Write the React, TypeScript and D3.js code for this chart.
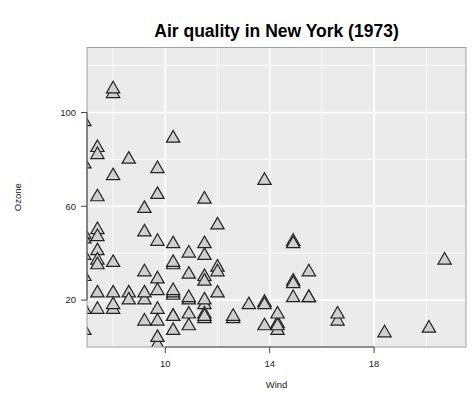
import React from "react";
import * as d3 from "d3";

// airquality (1973): Ozone (null = NA) and Wind, rows 1..153
const ozone: (number | null)[] = [
  41, 36, 12, 18, null, 28, 23, 19, 8, null, 7, 16, 11, 14, 18, 14, 34, 6, 30, 11, 1, 11, 4, 32, null, null, null, 23, 45, 115, 37,
  null, null, null, null, null, null, 29, null, 71, 39, null, null, 23, null, null, 21, 37, 20, 12, 13, null, null, null, null, null, null, null, null, null, null,
  135, 49, 32, null, 64, 40, 77, 97, 97, 85, null, 10, 27, null, 7, 48, 35, 61, 79, 63, 16, null, null, 80, 108, 20, 52, 82, 50, 64, 59,
  39, 9, 16, 78, 35, 66, 122, 89, 110, null, null, 44, 28, 65, null, 22, 59, 23, 31, 44, 21, 9, null, 45, 168, 73, null, 76, 118, 84, 85,
  96, 78, 73, 91, 47, 32, 20, 23, 21, 24, 44, 21, 28, 9, 13, 46, 18, 13, 24, 16, 13, 23, 36, 7, 14, 30, null, 14, 18, 20,
];
const wind: number[] = [
  7.4, 8.0, 12.6, 11.5, 14.3, 14.9, 8.6, 13.8, 20.1, 8.6, 6.9, 9.7, 9.2, 10.9, 13.2, 11.5, 12.0, 18.4, 11.5, 9.7, 9.7, 16.6, 9.7, 12.0, 16.6, 14.9, 8.0, 12.0, 14.9, 5.7, 7.4,
  8.6, 9.7, 16.1, 9.2, 8.6, 14.3, 9.7, 6.9, 13.8, 11.5, 10.9, 9.2, 8.0, 13.8, 11.5, 14.9, 20.7, 9.2, 11.5, 10.3, 6.3, 1.7, 4.6, 6.3, 8.0, 8.0, 10.3, 11.5, 14.9, 8.0,
  4.1, 9.2, 9.2, 10.9, 4.6, 10.9, 5.1, 6.3, 5.7, 7.4, 8.6, 14.3, 14.9, 14.9, 14.3, 6.9, 10.3, 6.3, 5.1, 11.5, 6.9, 9.7, 11.5, 8.6, 8.0, 8.6, 12.0, 7.4, 7.4, 7.4, 9.2,
  6.9, 13.8, 7.4, 6.9, 7.4, 4.6, 4.0, 10.3, 8.0, 8.6, 11.5, 11.5, 11.5, 9.7, 11.5, 10.3, 6.3, 7.4, 10.9, 10.3, 15.5, 14.3, 12.6, 9.7, 3.4, 8.0, 5.7, 9.7, 2.3, 6.3, 6.3,
  6.9, 5.1, 2.8, 4.6, 7.4, 15.5, 10.9, 10.3, 10.9, 9.7, 14.9, 15.5, 6.3, 10.9, 11.5, 6.9, 13.8, 10.3, 10.3, 8.0, 12.6, 9.2, 10.3, 10.3, 16.6, 6.9, 13.2, 14.3, 8.0, 11.5,
];

const xTicks = [10, 14, 18];
const xMinor = [8, 12, 16, 20];
const yTicks = [20, 60, 100];
const yMinor = [40, 80, 120];

const title = "Air quality in New York (1973)";
const xLabel = "Wind";
const yLabel = "Ozone";

export default function App() {
  const W = 474, H = 395;
  const left = 87, right = 466, top = 47.5, bottom = 347;
  const x = d3.scaleLinear().domain([7.0, 21.52]).range([left, right]);
  const y = d3.scaleLinear().domain([0, 127.7]).range([bottom, top]);

  const pts = wind
    .map((w, i) => ({ w, o: ozone[i] }))
    .filter((d) => d.o !== null) as { w: number; o: number }[];

  const r = 7.7;
  const xc = (r * Math.sqrt(3)) / 2;
  const tri = (cx: number, cy: number) =>
    `M${cx},${cy - r}L${cx + xc},${cy + r / 2}L${cx - xc},${cy + r / 2}Z`;

  const font = "'Liberation Sans', Arial, Helvetica, sans-serif";

  return (
    <svg width={W} height={H} style={{ position: "absolute", left: 0, top: 0, background: "#fff" }} fontFamily={font}>
      <defs>
        <clipPath id="panel">
          <rect x={left} y={top} width={right - left} height={bottom - top} />
        </clipPath>
      </defs>
      <text x={(left + right) / 2} y={37} textAnchor="middle" fontSize={17.5} fontWeight="bold" fill="#000">
        {title}
      </text>
      <rect x={left} y={top} width={right - left} height={bottom - top} fill="#ebebeb" />
      {xMinor.map((t) => (
        <line key={"xm" + t} x1={x(t)} x2={x(t)} y1={top} y2={bottom} stroke="#fff" strokeWidth={0.8} />
      ))}
      {yMinor.map((t) => (
        <line key={"ym" + t} x1={left} x2={right} y1={y(t)} y2={y(t)} stroke="#fff" strokeWidth={0.8} />
      ))}
      {xTicks.map((t) => (
        <line key={"xg" + t} x1={x(t)} x2={x(t)} y1={top} y2={bottom} stroke="#fff" strokeWidth={1.6} />
      ))}
      {yTicks.map((t) => (
        <line key={"yg" + t} x1={left} x2={right} y1={y(t)} y2={y(t)} stroke="#fff" strokeWidth={1.6} />
      ))}
      <g clipPath="url(#panel)">
        {pts.map((d, i) => (
          <path key={i} d={tri(x(d.w), y(d.o))} fill="#cfcfcf" stroke="#222" strokeWidth={1.2} />
        ))}
      </g>
      <rect x={left} y={top} width={right - left} height={bottom - top} fill="none" stroke="#a0a0a0" strokeWidth={1} />
      {/* y axis */}
      <line x1={left} x2={left} y1={y(yTicks[yTicks.length - 1])} y2={y(yTicks[0])} stroke="#555" strokeWidth={1.2} />
      {yTicks.map((t) => (
        <g key={"yt" + t}>
          <line x1={left - 6} x2={left} y1={y(t)} y2={y(t)} stroke="#444" strokeWidth={1} />
          <text x={left - 11} y={y(t)} dy="0.35em" textAnchor="end" fontSize={9.5} fill="#222">
            {t}
          </text>
        </g>
      ))}
      {/* x axis */}
      <line x1={x(xTicks[0])} x2={x(xTicks[xTicks.length - 1])} y1={bottom} y2={bottom} stroke="#555" strokeWidth={1.2} />
      {xTicks.map((t) => (
        <g key={"xt" + t}>
          <line x1={x(t)} x2={x(t)} y1={bottom} y2={bottom + 6} stroke="#444" strokeWidth={1} />
          <text x={x(t)} y={bottom + 20} textAnchor="middle" fontSize={9.5} fill="#222">
            {t}
          </text>
        </g>
      ))}
      <text x={(left + right) / 2} y={388} textAnchor="middle" fontSize={9.5} fill="#222">
        {xLabel}
      </text>
      <text transform={`translate(21,${(top + bottom) / 2}) rotate(-90)`} textAnchor="middle" fontSize={9.5} fill="#222">
        {yLabel}
      </text>
    </svg>
  );
}
